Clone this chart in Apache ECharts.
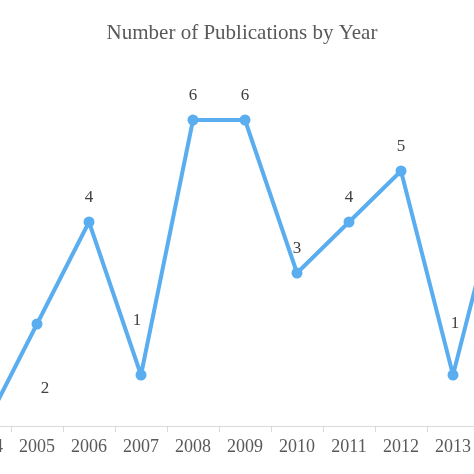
<!DOCTYPE html>
<html><head><meta charset="utf-8">
<script src="https://cdn.jsdelivr.net/npm/echarts@6/dist/echarts.min.js"></script>
<style>html,body{margin:0;padding:0;background:#fff;overflow:hidden;width:474px;height:474px}
#w{position:relative;width:474px;height:474px;overflow:hidden}
#c{position:absolute;left:-41px;top:0;width:572px;height:474px}</style>
</head><body><div id="w"><div id="c"></div></div>
<script>
const years = ['2004','2005','2006','2007','2008','2009','2010','2011','2012','2013','2014'];
const counts = [0,2,4,1,6,6,3,4,5,1,5];
const labelOffsets = {1:{position:'bottom',offset:[8,41]},3:{position:'top',offset:[-4,-30]},9:{position:'top',offset:[2,-27]}};
const font = '"Liberation Serif","DejaVu Serif",serif';
const data = counts.map((v,i)=>{
  const o={value:v};
  if(labelOffsets[i]) o.label=labelOffsets[i];
  if(i===0||i===10) o.label={show:false};
  return o;
});
const chart = echarts.init(document.getElementById('c'));
chart.setOption({
  animation:false,
  title:{text:'Number of Publications by Year',left:41+237,textAlign:'center',top:18,textStyle:{fontFamily:font,fontSize:21,fontWeight:'normal',color:'#595959'}},
  grid:{left:0,right:0,top:69,bottom:48,containLabel:false},
  xAxis:{type:'category',data:years,boundaryGap:true,
    axisLine:{lineStyle:{color:'#d9d9d9',width:1}},
    axisTick:{show:true,length:6,interval:0,lineStyle:{color:'#d9d9d9'}},
    axisLabel:{interval:0,fontFamily:font,fontSize:18,color:'#595959',margin:12}},
  yAxis:{type:'value',min:0,max:7,show:false,splitLine:{show:false}},
  series:[{type:'line',data:data,symbol:'circle',symbolSize:11,clip:false,
    lineStyle:{color:'#5aaef0',width:4},itemStyle:{color:'#5aaef0'},
    label:{show:true,position:'top',distance:10,fontFamily:font,fontSize:17,color:'#404040'}}]
});
</script></body></html>
